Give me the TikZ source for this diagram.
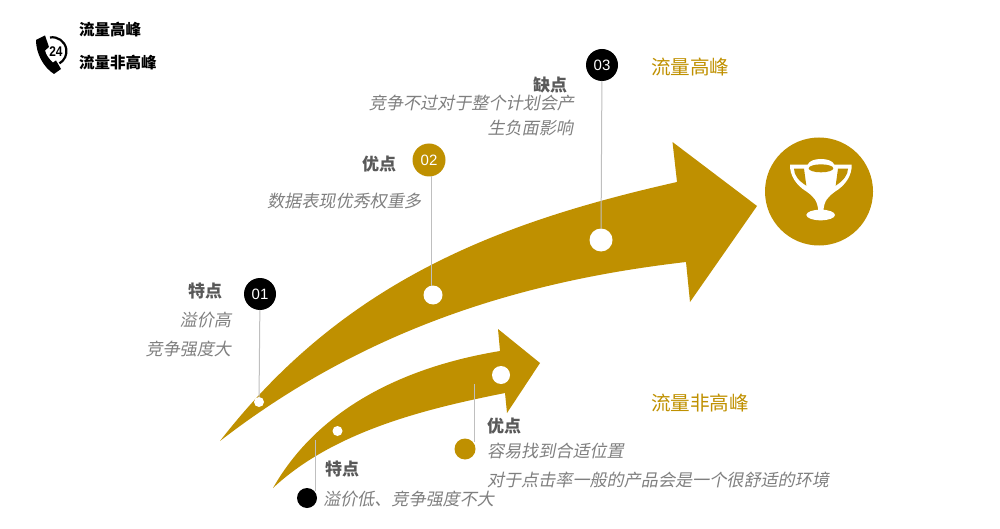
\documentclass[tikz,border=0pt]{standalone}
\usepackage{fontspec}
\setmainfont{Liberation Sans}
\newfontfamily\cjk{Noto Sans CJK SC}
\newfontfamily\cjki[FakeSlant=0.2]{Noto Sans CJK SC}
\newfontfamily\iconfont[FakeStretch=0.85]{Liberation Sans}
\definecolor{gold}{HTML}{BF9000}
\definecolor{txtgray}{HTML}{7F7F7F}
\definecolor{headgray}{HTML}{595959}
\definecolor{linegray}{HTML}{BFBFBF}
\tikzset{
 x=1pt,y=-1pt,
 every node/.style={inner sep=0pt,outer sep=0pt},
 head/.style={font=\cjk\bfseries\fontsize{17}{17}\selectfont,text=headgray},
 desc/.style={font=\cjki\fontsize{17.1}{17.1}\selectfont,text=txtgray},
 legend/.style={font=\cjk\bfseries\fontsize{15.5}{15.5}\selectfont,text=black},
 title/.style={font=\cjk\fontsize{19.6}{19.6}\selectfont,text=gold},
 badge/.style={circle,minimum size=#1,text=white,font=\fontsize{15}{15}\selectfont},
 wdot/.style={circle,fill=white,minimum size=#1},
 stem/.style={draw=linegray,line width=1pt},
}
\begin{document}
\begin{tikzpicture}
\useasboundingbox (0,0) rectangle (1000,529);
% big arrow
\fill[gold] (220,441) .. controls (345,280) and (500,222) .. (677,182)
 -- (672.5,142) -- (757,206) -- (690,302) -- (686,262)
 .. controls (530,280) and (370,325) .. (220,441) -- cycle;
% small arrow
\fill[gold] (273,488) .. controls (322,402) and (415,365) .. (500,351)
 -- (498,329) -- (540,363) -- (507,413) -- (505,393)
 .. controls (430,408) and (335,430) .. (273,488) -- cycle;
% dots
\coordinate (s2) at (431,295);
\coordinate (c4) at (315,440);
\coordinate (c5) at (474,384);
% stems
\node[wdot=10pt] (d1) at (259,402) {};
\node[wdot=19pt] (d2) at (433,295) {};
\node[wdot=23pt] (d3) at (601,240) {};
\node[wdot=10pt] (d4) at (337.5,431) {};
\node[wdot=18pt] (d5) at (501,375) {};
% badges
\node[badge=32pt,fill=black] (b1) at (260,294) {01};
\node[badge=33pt,fill=gold] (b2) at (429,160) {02};
\node[badge=32pt,fill=black] (b3) at (602,65) {03};
\node[badge=20pt,fill=black] (b4) at (307,498) {};
\node[badge=21pt,fill=gold] (b5) at (465,449) {};
\draw[stem] (b1) -- (d1);
\draw[stem] (b2.south -| s2) -- (s2 |- d2.north);
\draw[stem] (b3) -- (d3);
\draw[stem] (c4) -- (c4 |- b4.north east);
\draw[stem] (c5) -- (c5 |- b5.north east);
% texts
\node[head,anchor=east] (t1) at (222,291) {特点};
\node[desc,anchor=east] (t1a) at (231,320) {溢价高};
\node[desc,anchor=east] (t1b) at (231,349) {竞争强度大};
\node[head,anchor=east] (t2) at (396,164) {优点};
\node[desc,anchor=east] (t2a) at (421,201) {数据表现优秀权重多};
\node[head,anchor=east] (t3) at (567,85) {缺点};
\node[desc,anchor=east] (t3a) at (574,103) {竞争不过对于整个计划会产};
\node[desc,anchor=east] (t3b) at (573,128) {生负面影响};
\node[head,anchor=west] (t4) at (325,469) {特点};
\node[desc,anchor=west] (t4a) at (323,499) {溢价低、竞争强度不大};
\node[head,anchor=west] (t5) at (487,426) {优点};
\node[desc,anchor=west] (t5a) at (487,451) {容易找到合适位置};
\node[desc,anchor=west] (t5b) at (487,480) {对于点击率一般的产品会是一个很舒适的环境};
\node[title,anchor=west] (h1) at (651,67) {流量高峰};
\node[title,anchor=west] (h2) at (651,403) {流量非高峰};
\node[legend,anchor=west] (l1) at (79,30) {流量高峰};
\node[legend,anchor=west] (l2) at (79,63) {流量非高峰};
% trophy
\node[circle,fill=gold,minimum size=108pt] (tr) at (819,191.5) {};
\begin{scope}[shift={(780,150)},x=0.3333pt,y=-0.3333pt]
 \fill[white] (30,44) -- (83,44) .. controls (88,32) and (105,27) .. (123,27)
   .. controls (141,27) and (158,32) .. (163,44) -- (215,44)
   .. controls (216,75) and (198,105) .. (165,125)
   .. controls (145,140) and (132,150) .. (130,185) -- (115,185)
   .. controls (113,150) and (100,140) .. (80,125)
   .. controls (47,105) and (29,75) .. (30,44) -- cycle;
 \fill[white] (122,195) ellipse (43 and 16);
 \fill[gold] (123,55) ellipse (37 and 12);
 \fill[gold] (42,56) -- (72,56) -- (79,107) .. controls (55,92) and (42,75) .. (42,56) -- cycle;
 \fill[gold] (204,56) -- (174,56) -- (167,107) .. controls (190,92) and (204,75) .. (204,56) -- cycle;
\end{scope}
% phone icon
\fill[black] (36,40) -- (45,35.5) -- (49,47) -- (45,50.5)
  .. controls (46,55) and (49,59) .. (53,62.5) -- (56,60.5) -- (61,69) -- (54,74)
  .. controls (43,67) and (36,53) .. (36,40) -- cycle;
\draw[black,line width=2.2pt] (50,37.5) arc (-100:60:14) ;
\node[font=\iconfont\bfseries\fontsize{14}{14}\selectfont] (n24) at (56,52) {24};
\end{tikzpicture}
\end{document}
